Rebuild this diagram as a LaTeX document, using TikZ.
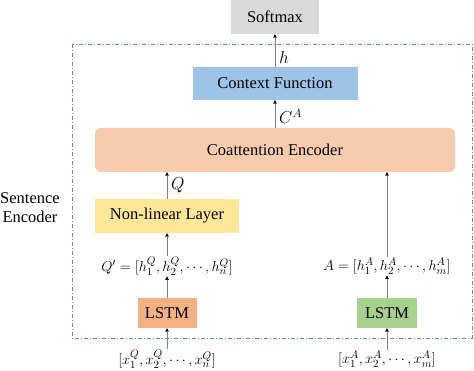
\documentclass[tikz,border=0pt]{standalone}
\usepackage{fontspec}
\setmainfont{Liberation Serif}
\usetikzlibrary{arrows.meta}
\definecolor{smaxgray}{HTML}{D9D9D9}
\definecolor{ctxblue}{HTML}{9DC3E6}
\definecolor{coatpeach}{HTML}{F8CBAD}
\definecolor{nlyellow}{HTML}{FFE699}
\definecolor{lstmorange}{HTML}{F4B183}
\definecolor{lstmgreen}{HTML}{A9D18E}
\definecolor{framegray}{HTML}{6B8BA4}
\definecolor{wiregray}{HTML}{808080}
\begin{document}
\begin{tikzpicture}[
   x=1pt,y=-1pt,
   font=\fontsize{16.5}{19}\selectfont,
   encbox/.style={inner sep=0pt,align=center},
   seqlabel/.style={inner sep=1pt,font=\fontsize{15.5}{18}\selectfont},
   encwire/.style={draw=wiregray,thin,-{Triangle[length=3.5pt,width=3.5pt,color=black]}},
   wirelabel/.style={right,inner sep=4pt}
 ]
 \useasboundingbox (0,0) rectangle (474,371);
 % outer sentence encoder frame
 \draw[framegray,semithick,dash pattern=on 4pt off 2pt on 1pt off 2pt]
   (72,44) rectangle (472,338);
 \node[align=center] (sentenc) at (30,208) {Sentence\\Encoder};
 % boxes
 \node[encbox,fill=smaxgray,minimum width=88pt,minimum height=34pt] (smax) at (275,17) {Softmax};
 \node[encbox,fill=ctxblue,minimum width=165pt,minimum height=33pt] (ctx) at (275,83.5) {Context Function};
 \node[encbox,fill=coatpeach,rounded corners=6pt,minimum width=360pt,minimum height=44pt] (coat) at (275,150) {Coattention Encoder};
 \node[encbox,fill=nlyellow,minimum width=144pt,minimum height=34pt] (nonlin) at (167,216) {Non-linear Layer};
 \node[encbox,fill=lstmorange,minimum width=59pt,minimum height=30pt] (lstmq) at (167,313) {LSTM};
 \node[encbox,fill=lstmgreen,minimum width=60pt,minimum height=30pt] (lstma) at (387,313) {LSTM};
 % sequences
 \node[seqlabel] (hq) at (167,266) {$Q' = [h_1^Q, h_2^Q, \cdots, h_n^Q]$};
 \node[seqlabel] (ha) at (387,266) {$A = [h_1^A, h_2^A, \cdots, h_m^A]$};
 \node[seqlabel] (xq) at (167,359) {$[x_1^Q, x_2^Q, \cdots, x_n^Q]$};
 \node[seqlabel] (xa) at (387,359) {$[x_1^A, x_2^A, \cdots, x_m^A]$};
 % connectors
 \draw[encwire] (ctx) -- node[wirelabel,pos=0.3] {$h$} (smax);
 \draw[encwire] (coat) -- node[wirelabel,pos=0.4] {$C^A$} (ctx);
 \draw[encwire] (nonlin) -- node[wirelabel] {$Q$} (nonlin.north |- coat.south);
 \draw[encwire] (hq) -- (nonlin);
 \draw[encwire] (lstmq) -- (hq);
 \draw[encwire] (xq) -- (lstmq);
 \draw[encwire] (ha) -- (ha.north |- coat.south);
 \draw[encwire] (lstma) -- (ha);
 \draw[encwire] (xa) -- (lstma);
\end{tikzpicture}
\end{document}
